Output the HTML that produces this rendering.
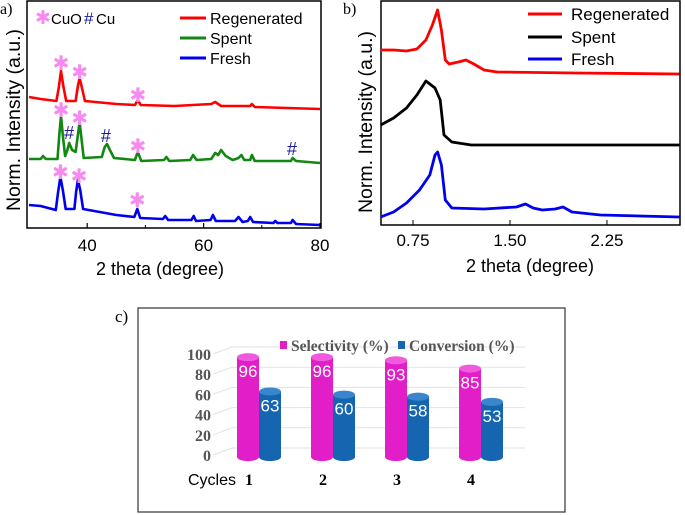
<!DOCTYPE html>
<html><head><meta charset="utf-8"><style>
html,body{margin:0;padding:0;background:#fff;}
svg{display:block;font-family:"Liberation Sans",sans-serif;}
</style></head><body>
<svg id="fig" width="685" height="515" viewBox="0 0 685 515">
<g id="pa"></g>
<g id="pb"></g>
<g id="pc"></g>
</svg>
<script>
// ---- Panel a data (2theta, pixel-referenced intensity) ----
const aRegen=[[30,97],[32,99],[34.7,101],[35.1,88],[35.5,71],[35.9,86],[36.4,101],[38.0,101],[38.4,86],[38.7,78],[39.1,88],[39.6,101],[45,104],[48.2,105],[48.7,100],[49.2,105],[55,106],[61.3,104],[62,102],[63,106],[68,106],[68.3,104],[68.8,107],[80,109]];
const aSpent=[[30,159],[32,159],[32.4,156],[32.9,159],[34.9,159],[35.2,135],[35.5,116],[35.8,135],[36.2,156],[36.6,150],[36.9,143],[37.4,150],[38.0,152],[38.4,135],[38.7,122],[39.0,138],[39.4,158],[42.5,157],[43.0,147],[43.4,144],[43.9,150],[44.6,158],[48.2,160],[48.7,152],[49.3,161],[53.2,160],[53.6,157],[54.1,161],[57.7,160],[58.2,155],[58.8,160],[61.3,159],[62,153],[62.5,155],[63,150],[63.8,156],[65,160],[66,158],[66.5,155],[67,160],[68,160],[68.3,155],[68.8,161],[75,161],[75.3,158],[75.9,161],[80,163]];
const aFresh=[[30,205],[32,206],[34.6,210],[35.0,192],[35.4,177],[35.8,190],[36.3,209],[37.8,209],[38.1,192],[38.4,180],[38.8,190],[39.3,209],[45,215],[48.1,217],[48.6,209],[49.1,218],[53,219],[53.4,216],[53.9,220],[57.9,220],[58.3,216],[58.7,221],[61.2,220],[61.6,215],[62.1,221],[65.4,221],[66,217],[66.7,222],[67.6,221],[68,217],[68.5,222],[72,223],[72.3,221],[72.7,223],[75,223],[75.3,220],[75.9,224],[80,225]];
const aTicks=[40,60,80];
const aStars=[[35.5,165],[38.7,156],[48.7,133],[35.5,118],[38.7,110],[48.7,82],[35.4,56],[38.6,52],[48.6,28]];
const aHash=[[36.9,96],[43.2,93],[75.2,80]];
// ---- Panel b data ----
const bRegen=[[0.5,50],[0.6,50],[0.7,51],[0.78,49],[0.85,40],[0.9,25],[0.94,10],[0.97,30],[1.0,60],[1.03,64],[1.1,62],[1.16,60],[1.22,64],[1.3,70],[1.4,72],[2.0,73],[2.81,74]];
const bSpent=[[0.5,125],[0.6,118],[0.7,108],[0.78,95],[0.85,81],[0.92,88],[0.96,100],[0.99,135],[1.05,142],[1.2,145],[2.81,145]];
const bFresh=[[0.5,217],[0.6,212],[0.7,203],[0.8,190],[0.88,175],[0.92,155],[0.94,152],[0.97,165],[1.0,200],[1.05,208],[1.3,209],[1.55,207],[1.62,204],[1.68,208],[1.75,210],[1.85,209],[1.91,207],[1.98,212],[2.2,215],[2.81,217]];
const bTicks=[0.75,1.5,2.25];
const bTickLabels=["0.75","1.50","2.25"];
// ---- Panel c data ----
const cycles=["1","2","3","4"];
const selectivity=[96,96,93,85];
const conversion=[63,60,58,53];
const cTicks=[0,20,40,60,80,100];

const NS="http://www.w3.org/2000/svg";
function mk(parent,tag,attrs,text){const e=document.createElementNS(NS,tag);for(const k in attrs)e.setAttribute(k,attrs[k]);if(text!==undefined)e.textContent=text;parent.appendChild(e);return e;}

// Panel a
const pa=document.getElementById('pa');
const ax=v=>29+(v-30)*5.82, ay=v=>228-v;
let t=mk(pa,'text',{x:0,y:14,'font-family':'Liberation Serif,serif','font-size':16},'a)');


let r=mk(pa,'rect',{x:27,y:1,width:294,height:227,fill:'none',stroke:'#000','stroke-width':1.5});


[[aRegen,'#f00','series-regenerated-a'],[aSpent,'#118811','series-spent-a'],[aFresh,'#0000ee','series-fresh-a']].forEach(([d,c,n])=>{
 const p=mk(pa,'path',{d:d.map((q,i)=>(i?'L':'M')+ax(q[0]).toFixed(1)+','+ay(228-q[1]).toFixed(1)).join(''),fill:'none',stroke:c,'stroke-width':2.6,'stroke-linejoin':'round'});
 
 
});
aTicks.forEach(v=>{mk(pa,'line',{x1:ax(v),x2:ax(v),y1:228,y2:223,stroke:'#000','stroke-width':1.2});
 const e=mk(pa,'text',{x:ax(v),y:251,'text-anchor':'middle','font-size':17},String(v));
 
 });
[50,70].forEach(v=>mk(pa,'line',{x1:ax(v),x2:ax(v),y1:228,y2:225,stroke:'#000'}));
aStars.forEach(s=>{const e=mk(pa,'text',{x:ax(s[0]),y:ay(s[1])+7,'text-anchor':'middle','font-size':20,fill:'#f68af0','font-family':'DejaVu Sans,sans-serif'},'✱');
 
 });
aHash.forEach(s=>{const e=mk(pa,'text',{x:ax(s[0]),y:ay(s[1])+7,'text-anchor':'middle','font-size':18,fill:'#1a1a9a'},'#');
 
 });
t=mk(pa,'text',{x:160,y:275,'text-anchor':'middle','font-size':18},'2 theta (degree)');


t=mk(pa,'text',{x:0,y:0,transform:'translate(20,120) rotate(-90)','text-anchor':'middle','font-size':19.5},'Norm. Intensity (a.u.)');


t=mk(pa,'text',{x:35,y:24,'font-size':19,fill:'#f68af0','font-family':'DejaVu Sans,sans-serif'},'✱');


mk(pa,'text',{x:51,y:24,'font-size':15},'CuO');
mk(pa,'text',{x:84,y:24,'font-size':17,fill:'#1a1a9a'},'#');
mk(pa,'text',{x:96,y:24,'font-size':15},'Cu');
[['Regenerated','#f00',18],['Spent','#118811',38],['Fresh','#0000ee',58]].forEach(([n,c,y])=>{
 const l=mk(pa,'line',{x1:180,x2:206,y1:y,y2:y,stroke:c,'stroke-width':3});
 
 
 const e=mk(pa,'text',{x:210,y:y+6,'font-size':16},n);
 
 });

// Panel b
const pb=document.getElementById('pb');
const bx=v=>413+(v-0.75)*129.3, by=v=>228-v;
t=mk(pb,'text',{x:343,y:14,'font-family':'Liberation Serif,serif','font-size':16},'b)');


r=mk(pb,'rect',{x:381,y:1,width:299,height:224,fill:'none',stroke:'#000','stroke-width':1.5});


[[bRegen,'#f00','series-regenerated-b'],[bSpent,'#000','series-spent-b'],[bFresh,'#0000ee','series-fresh-b']].forEach(([d,c,n])=>{
 const p=mk(pb,'path',{d:d.map((q,i)=>(i?'L':'M')+bx(q[0]).toFixed(1)+','+by(228-q[1]).toFixed(1)).join(''),fill:'none',stroke:c,'stroke-width':2.8,'stroke-linejoin':'round'});
 
 });
bTicks.forEach((v,i)=>{mk(pb,'line',{x1:bx(v),x2:bx(v),y1:225,y2:220,stroke:'#000'});
 const e=mk(pb,'text',{x:bx(v),y:246,'text-anchor':'middle','font-size':17},bTickLabels[i]);
 
 });
t=mk(pb,'text',{x:530,y:272,'text-anchor':'middle','font-size':18},'2 theta (degree)');


t=mk(pb,'text',{x:0,y:0,transform:'translate(372,122) rotate(-90)','text-anchor':'middle','font-size':19.5},'Norm. Intensity (a.u.)');


[['Regenerated','#f00',14],['Spent','#000',37],['Fresh','#0000ee',59]].forEach(([n,c,y])=>{
 const l=mk(pb,'line',{x1:528,x2:562,y1:y,y2:y,stroke:c,'stroke-width':3});
 
 
 const e=mk(pb,'text',{x:571,y:y+6,'font-size':17},n);
 
 });

// Panel c
const pc=document.getElementById('pc');
t=mk(pc,'text',{x:115,y:322,'font-family':'Liberation Serif,serif','font-size':17},'c)');


r=mk(pc,'rect',{x:138,y:308,width:427,height:204,fill:'none',stroke:'#333','stroke-width':1.2});


const gy=v=>448-v*1.01, vy=v=>457-v*1.04;
cTicks.forEach(v=>{
 const g=mk(pc,'path',{d:`M213,${gy(v)+7}L232,${gy(v)}L525,${gy(v)}`,fill:'none',stroke:'#e2e2e2','stroke-width':1});
 
 
 const e=mk(pc,'text',{x:211,y:gy(v)+13,'text-anchor':'end','font-family':'Liberation Serif,serif','font-weight':'bold','font-size':16,fill:'#555'},String(v));
 
 });
const cx=i=>248+i*74;
function cyl(x,v,col,top,name,label){
 const y=vy(v),w=22,ry=4;
 const g=mk(pc,'g',{});
 
 
 mk(g,'ellipse',{cx:x,cy:457,rx:w/2,ry:ry,fill:col});
 mk(g,'rect',{x:x-w/2,y:y,width:w,height:457-y,fill:col});
 mk(g,'ellipse',{cx:x,cy:y,rx:w/2,ry:ry,fill:top});
 const e=mk(g,'text',{x:x,y:y+20,'text-anchor':'middle','font-size':17,fill:'#fff'},label);
 
 
}
cycles.forEach((c,i)=>{
 cyl(cx(i),selectivity[i],'#e21ec9','#f25ade','bar-selectivity-'+c,String(selectivity[i]));
 cyl(cx(i)+22,conversion[i],'#1565b0','#3a86cc','bar-conversion-'+c,String(conversion[i]));
 const e=mk(pc,'text',{x:cx(i)+1,y:485,'text-anchor':'middle','font-family':'Liberation Serif,serif','font-weight':'bold','font-size':16},c);
 
 });
t=mk(pc,'text',{x:188,y:485,'font-size':16},'Cycles');


let s=mk(pc,'rect',{x:280,y:341,width:7,height:8,fill:'#e21ec9'});


t=mk(pc,'text',{x:291,y:351,'font-family':'Liberation Serif,serif','font-weight':'bold','font-size':15.5,fill:'#555'},'Selectivity (%)');


s=mk(pc,'rect',{x:398,y:341,width:7,height:8,fill:'#1565b0'});


t=mk(pc,'text',{x:409,y:351,'font-family':'Liberation Serif,serif','font-weight':'bold','font-size':15.5,fill:'#555'},'Conversion (%)');


</script>
</body></html>
